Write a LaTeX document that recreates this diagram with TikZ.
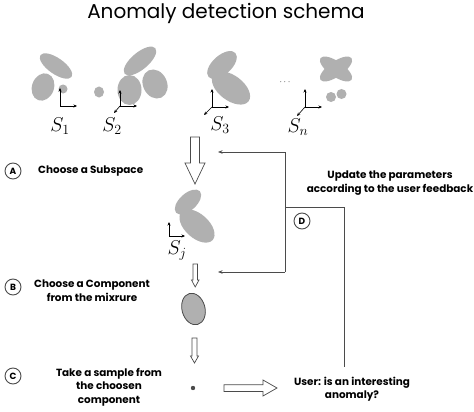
\documentclass[tikz,border=0pt]{standalone}
\usepackage{fix-cm}
\usepackage{fontspec}
\setmainfont{Poppins}
\usetikzlibrary{arrows.meta}
\definecolor{blob}{RGB}{176,176,176}
\definecolor{ln}{RGB}{75,75,75}
\begin{document}
\begin{tikzpicture}[x=1pt,y=-1pt,
 blobfill/.style={fill=blob},
 axis/.style={-{Stealth[length=3.5pt,width=3pt]},line width=0.6pt,black},
 fb/.style={ln,line width=0.7pt},
 fbarrow/.style={fb,-{Stealth[length=4.5pt,width=3.5pt]}},
 hollow/.style={draw=ln,fill=white,line width=0.7pt,line join=miter},
 circlab/.style={circle,draw=ln,line width=0.9pt,minimum size=16pt,inner sep=0pt,font=\bfseries\fontsize{9}{9}\selectfont},
 lab/.style={font=\bfseries\fontsize{10.4}{13.5}\selectfont,align=center,inner sep=0pt},
 slab/.style={font=\fontsize{20}{20}\selectfont,inner sep=0pt}
]
\useasboundingbox (0,0) rectangle (474,412);
\fill[white] (0,0) rectangle (474,412);

\node[font=\fontsize{20}{24}\selectfont,inner sep=0pt] (title) at (226,13) {Anomaly detection schema};

% ---- S1
\fill[blobfill,rotate around={-35:(56,66)}] (56,66) ellipse [x radius=19,y radius=8];
\fill[blobfill,rotate around={-20:(43,87)}] (43,87) ellipse [x radius=11,y radius=14];
\fill[blobfill] (63,89) circle [radius=4.5];
\coordinate (o1) at (60,106);
\coordinate (u1) at (60,88);
\coordinate (r1) at (77,106);
\draw[axis] (o1) -- (u1);
\draw[axis] (o1) -- (r1);
\node[slab] (s1) at (60,126) {$S_1$};

% ---- S2
\fill[blobfill] (99,92) circle [x radius=5,y radius=5.5];
\fill[blobfill,rotate around={40:(140,61)}] (140,61) ellipse [x radius=20,y radius=8.5];
\fill[blobfill] (129.5,90) ellipse [x radius=12,y radius=15];
\fill[blobfill,rotate around={25:(155,84)}] (155,84) ellipse [x radius=12,y radius=15];
\coordinate (o2) at (120,106);
\coordinate (u2) at (120,90);
\coordinate (r2) at (137,106);
\coordinate (d2) at (114,113);
\draw[axis] (o2) -- (u2);
\draw[axis] (o2) -- (r2);
\draw[axis] (o2) -- (d2);
\node[slab] (s2) at (112,126) {$S_2$};

% ---- S3
\fill[blobfill,rotate around={42:(222,65)}] (222,65) ellipse [x radius=18,y radius=9.5];
\fill[blobfill,rotate around={-37:(231,88)}] (231,88) ellipse [x radius=22,y radius=12.5];
\coordinate (o3) at (212,107);
\coordinate (u3) at (212,89);
\coordinate (r3) at (229,107);
\coordinate (d3) at (204,115);
\draw[axis] (o3) -- (u3);
\draw[axis] (o3) -- (r3);
\draw[axis] (o3) -- (d3);
\node[slab] (s3) at (220,125) {$S_3$};

\node[font=\fontsize{9}{9}\selectfont,inner sep=0pt] (dots) at (285,82) {$\cdots$};

% ---- Sn
\fill[blobfill,rotate around={35:(336,69)}] (336,69) ellipse [x radius=19,y radius=7.5];
\fill[blobfill,rotate around={-35:(336,69)}] (336,69) ellipse [x radius=19,y radius=7.5];
\fill[blobfill] (331,97) circle [radius=5];
\fill[blobfill] (341.5,94) circle [radius=5];
\coordinate (on) at (305,107);
\coordinate (un) at (305,89);
\coordinate (rn) at (322,107);
\coordinate (dn) at (297,116);
\draw[axis] (on) -- (un);
\draw[axis] (on) -- (rn);
\draw[axis] (on) -- (dn);
\node[slab] (sn) at (298,127) {$S_n$};

% ---- big hollow arrow
\draw[hollow] (190.5,137) -- (199.5,137) -- (199.5,163) -- (205,163) -- (195,184) -- (185,163) -- (190.5,163) -- cycle;

% ---- Sj
\fill[blobfill,rotate around={42:(188,202)}] (188,202) ellipse [x radius=16,y radius=8.5];
\fill[blobfill,rotate around={-42:(197,226)}] (197,226) ellipse [x radius=21,y radius=12];
\coordinate (oj) at (169,236);
\coordinate (uj) at (169,222);
\coordinate (rj) at (185,236);
\draw[axis] (oj) -- (uj);
\draw[axis] (oj) -- (rj);
\node[slab] (sj) at (177,251) {$S_j$};

% ---- small arrow 1
\draw[hollow] (193,264) -- (197.5,264) -- (197.5,280) -- (199,280) -- (195.2,287) -- (191.5,280) -- (193,280) -- cycle;

% ---- component ellipse
\filldraw[fill=blob,draw=ln,line width=0.8pt,rotate around={15:(193.5,309)}] (193.5,309) ellipse [x radius=11.5,y radius=16];

% ---- small arrow 2
\draw[hollow] (192,338) -- (197,338) -- (197,356) -- (198.5,356) -- (194.5,363) -- (190.5,356) -- (192,356) -- cycle;

% ---- sample dot
\fill[ln] (193,388) circle [radius=2.2];

% ---- horizontal hollow arrow
\draw[hollow] (224,384.8) -- (263,384.8) -- (263,380) -- (277,388) -- (263,396) -- (263,391.4) -- (224,391.4) -- cycle;

% ---- feedback lines
\coordinate (ft) at (285,152);
\coordinate (ftt) at (218,152);
\coordinate (fb) at (285,272);
\coordinate (fbt) at (218,272);
\coordinate (fm) at (285,207);
\coordinate (fr) at (344,207);
\coordinate (fu) at (344,367);
\draw[fbarrow] (ft) -- (ftt);
\draw[fbarrow] (fb) -- (fbt);
\draw[fb] (ft) -- (fb);
\draw[fb] (fm) -- (fr) -- (fu);

% ---- labels
\node[circlab] (A) at (13,171) {A};
\node[circlab] (B) at (13,287) {B};
\node[circlab] (C) at (13,376) {C};
\node[circlab] (D) at (302,221) {D};

\node[lab,anchor=west] (la) at (38,171) {Choose a Subspace};
\node[lab] (lb) at (92,290.5) {Choose a Component\\from the mixrure};
\node[lab] (lc) at (109,387) {Take a sample from\\the choosen\\component};
\node[lab] (ld) at (390,183) {Update the parameters\\according to the user feedback};
\node[lab] (lu) at (352,389) {User: is an interesting\\anomaly?};
\end{tikzpicture}
\end{document}
